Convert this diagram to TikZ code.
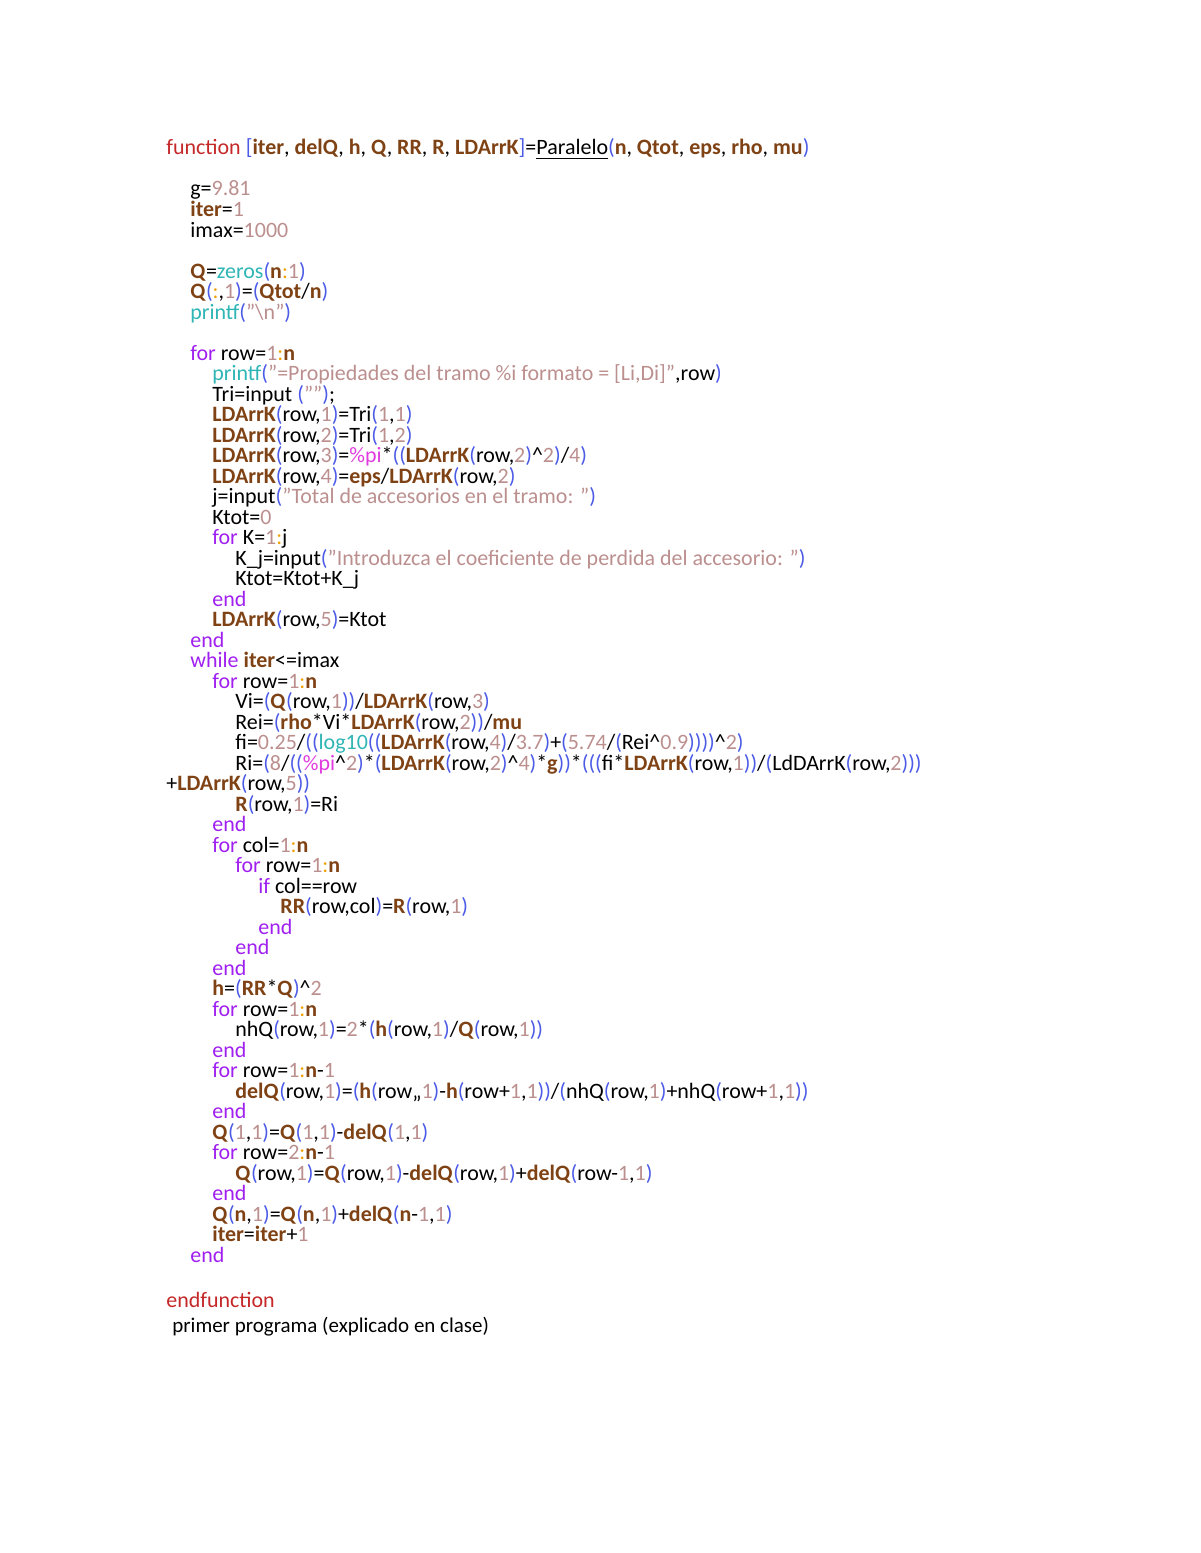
\documentclass[tikz,border=0pt]{standalone}
\usepackage{fontspec}
\setmainfont{Carlito}
\definecolor{cfun}{HTML}{C42828}
\definecolor{cvar}{HTML}{7F4214}
\definecolor{cnum}{HTML}{BC8F8F}
\definecolor{cbr}{HTML}{4B5BE6}
\definecolor{cbi}{HTML}{2FB5B5}
\definecolor{ckw}{HTML}{A020F0}
\definecolor{cpi}{HTML}{E03CE0}
\definecolor{ccol}{HTML}{F0A000}
\newcommand\Vb[1]{\textcolor{cvar}{\textbf{#1}}}
\newcommand\Nm[1]{\textcolor{cnum}{#1}}
\newcommand\Br[1]{\textcolor{cbr}{#1}}
\newcommand\Bi[1]{\textcolor{cbi}{#1}}
\newcommand\Kw[1]{\textcolor{ckw}{#1}}
\newcommand\Pk[1]{\textcolor{cpi}{#1}}
\newcommand\Cl{\textcolor{ccol}{:}}
\newcommand\Ca{\textasciicircum}
\newcommand\Dq{{\char34}}
\newcommand\LD{\Vb{LDArrK}}
\newcommand\LP{\Br{(}}
\newcommand\RP{\Br{)}}
\begin{document}
\begin{tikzpicture}[x=0.51pt,y=-0.51pt,
  L/.style={anchor=base west,inner sep=0pt,font=\fontsize{11.2}{13}\selectfont}]
\useasboundingbox (0,0) rectangle (1200,1553);
\def\ya{196}\def\dy{20.5}
\def\xa{166}\def\xb{190}\def\xc{212}\def\xd{235}\def\xe{258}\def\xf{280}
\node[L] (t) at (\xa,155) {\textcolor{cfun}{function} \Br{[}\Vb{iter}, \Vb{delQ}, \Vb{h}, \Vb{Q}, \Vb{RR}, \Vb{R}, \LD\Br{]}=\underline{Paralelo}\LP\Vb{n}, \Vb{Qtot}, \Vb{eps}, \Vb{rho}, \Vb{mu}\RP};
\newcommand\Ln[3]{\node[L] (l#2) at (#1,{\ya+#2*\dy}) {#3};}
\Ln{\xb}{0}{g=\Nm{9.81}}
\Ln{\xb}{1}{\Vb{iter}=\Nm{1}}
\Ln{\xb}{2}{imax=\Nm{1000}}
\Ln{\xb}{4}{\Vb{Q}=\Bi{zeros}\LP\Vb{n}\Cl\Nm{1}\RP}
\Ln{\xb}{5}{\Vb{Q}\LP\Cl,\Nm{1}\RP=\LP\Vb{Qtot}/\Vb{n}\RP}
\Ln{\xb}{6}{\Bi{printf}\LP\Nm{\Dq\textbackslash n\Dq}\RP}
\Ln{\xb}{8}{\Kw{for} row=\Nm{1}\Cl\Vb{n}}
\Ln{\xc}{9}{\Bi{printf}\LP\Nm{\Dq=Propiedades del tramo \%i formato = [Li,Di]\Dq},row\RP}
\Ln{\xc}{10}{Tri=input \LP\Nm{\Dq\Dq}\RP;}
\Ln{\xc}{11}{\LD\LP row,\Nm{1}\RP=Tri\LP\Nm{1},\Nm{1}\RP}
\Ln{\xc}{12}{\LD\LP row,\Nm{2}\RP=Tri\LP\Nm{1},\Nm{2}\RP}
\Ln{\xc}{13}{\LD\LP row,\Nm{3}\RP=\Pk{\%pi}*\LP\LP\LD\LP row,\Nm{2}\RP\Ca\Nm{2}\RP/\Nm{4}\RP}
\Ln{\xc}{14}{\LD\LP row,\Nm{4}\RP=\Vb{eps}/\LD\LP row,\Nm{2}\RP}
\Ln{\xc}{15}{j=input\LP\Nm{\Dq Total de accesorios en el tramo: \Dq}\RP}
\Ln{\xc}{16}{Ktot=\Nm{0}}
\Ln{\xc}{17}{\Kw{for} K=\Nm{1}\Cl j}
\Ln{\xd}{18}{K\_j=input\LP\Nm{\Dq Introduzca el coeficiente de perdida del accesorio: \Dq}\RP}
\Ln{\xd}{19}{Ktot=Ktot+K\_j}
\Ln{\xc}{20}{\Kw{end}}
\Ln{\xc}{21}{\LD\LP row,\Nm{5}\RP=Ktot}
\Ln{\xb}{22}{\Kw{end}}
\Ln{\xb}{23}{\Kw{while} \Vb{iter}<=imax}
\Ln{\xc}{24}{\Kw{for} row=\Nm{1}\Cl\Vb{n}}
\Ln{\xd}{25}{Vi=\LP\Vb{Q}\LP row,\Nm{1}\RP\RP/\LD\LP row,\Nm{3}\RP}
\Ln{\xd}{26}{Rei=\LP\Vb{rho}*Vi*\LD\LP row,\Nm{2}\RP\RP/\Vb{mu}}
\Ln{\xd}{27}{fi=\Nm{0.25}/\LP\LP\Bi{log10}\LP\LP\LD\LP row,\Nm{4}\RP/\Nm{3.7}\RP+\LP\Nm{5.74}/\LP Rei\Ca\Nm{0.9}\RP\RP\RP\RP\Ca\Nm{2}\RP}
\Ln{\xd}{28}{Ri=\LP\Nm{8}/\LP\LP\Pk{\%pi}\Ca\Nm{2}\RP*\LP\LD\LP row,\Nm{2}\RP\Ca\Nm{4}\RP*\Vb{g}\RP\RP*\LP\LP\LP fi*\LD\LP row,\Nm{1}\RP\RP/\LP LdDArrK\LP row,\Nm{2}\RP\RP\RP}
\Ln{\xa}{29}{+\LD\LP row,\Nm{5}\RP\RP}
\Ln{\xd}{30}{\Vb{R}\LP row,\Nm{1}\RP=Ri}
\Ln{\xc}{31}{\Kw{end}}
\Ln{\xc}{32}{\Kw{for} col=\Nm{1}\Cl\Vb{n}}
\Ln{\xd}{33}{\Kw{for} row=\Nm{1}\Cl\Vb{n}}
\Ln{\xe}{34}{\Kw{if} col==row}
\Ln{\xf}{35}{\Vb{RR}\LP row,col\RP=\Vb{R}\LP row,\Nm{1}\RP}
\Ln{\xe}{36}{\Kw{end}}
\Ln{\xd}{37}{\Kw{end}}
\Ln{\xc}{38}{\Kw{end}}
\Ln{\xc}{39}{\Vb{h}=\LP\Vb{RR}*\Vb{Q}\RP\Ca\Nm{2}}
\Ln{\xc}{40}{\Kw{for} row=\Nm{1}\Cl\Vb{n}}
\Ln{\xd}{41}{nhQ\LP row,\Nm{1}\RP=\Nm{2}*\LP\Vb{h}\LP row,\Nm{1}\RP/\Vb{Q}\LP row,\Nm{1}\RP\RP}
\Ln{\xc}{42}{\Kw{end}}
\Ln{\xc}{43}{\Kw{for} row=\Nm{1}\Cl\Vb{n}-\Nm{1}}
\Ln{\xd}{44}{\Vb{delQ}\LP row,\Nm{1}\RP=\LP\Vb{h}\LP row,,\Nm{1}\RP-\Vb{h}\LP row+\Nm{1},\Nm{1}\RP\RP/\LP nhQ\LP row,\Nm{1}\RP+nhQ\LP row+\Nm{1},\Nm{1}\RP\RP}
\Ln{\xc}{45}{\Kw{end}}
\Ln{\xc}{46}{\Vb{Q}\LP\Nm{1},\Nm{1}\RP=\Vb{Q}\LP\Nm{1},\Nm{1}\RP-\Vb{delQ}\LP\Nm{1},\Nm{1}\RP}
\Ln{\xc}{47}{\Kw{for} row=\Nm{2}\Cl\Vb{n}-\Nm{1}}
\Ln{\xd}{48}{\Vb{Q}\LP row,\Nm{1}\RP=\Vb{Q}\LP row,\Nm{1}\RP-\Vb{delQ}\LP row,\Nm{1}\RP+\Vb{delQ}\LP row-\Nm{1},\Nm{1}\RP}
\Ln{\xc}{49}{\Kw{end}}
\Ln{\xc}{50}{\Vb{Q}\LP\Vb{n},\Nm{1}\RP=\Vb{Q}\LP\Vb{n},\Nm{1}\RP+\Vb{delQ}\LP\Vb{n}-\Nm{1},\Nm{1}\RP}
\Ln{\xc}{51}{\Vb{iter}=\Vb{iter}+\Nm{1}}
\Ln{\xb}{52}{\Kw{end}}
\node[L] (ef) at (\xa,1307) {\textcolor{cfun}{endfunction}};
\node[L,font=\fontsize{10.7}{13}\selectfont] (pp) at (172,1332) {primer programa (explicado en clase)};
\end{tikzpicture}
\end{document}
